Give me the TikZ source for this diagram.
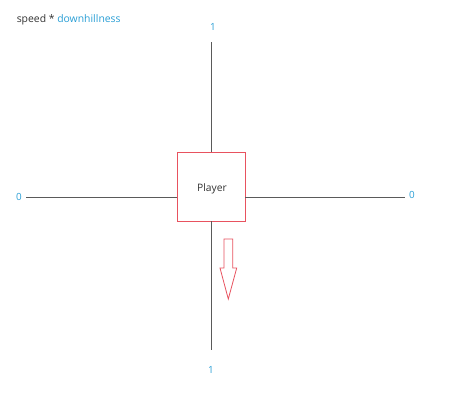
\documentclass[tikz,border=0pt]{standalone}
\usepackage{fontspec}
\setmainfont{Open Sans}
\definecolor{axisgray}{HTML}{5A5A5A}
\definecolor{boxred}{HTML}{E8525F}
\definecolor{labblue}{HTML}{2A9FD6}
\definecolor{txtgray}{HTML}{333333}
\begin{document}
\begin{tikzpicture}[x=0.75pt,y=-0.75pt,
  axis/.style={draw=axisgray,line width=0.75pt},
  lab/.style={text=labblue,font=\fontsize{7.4}{8}\selectfont,inner sep=0pt},
  playerbox/.style={draw=boxred,line width=0.6pt,fill=white,minimum width=51pt,minimum height=51.75pt,inner sep=0pt,font=\fontsize{7.7}{9}\selectfont,text=txtgray}]
\useasboundingbox[fill=white] (0,0) rectangle (474,412);
\node[playerbox] (p) at (211,186.5) {};
\node[text=txtgray,font=\fontsize{7.7}{9}\selectfont,inner sep=0pt] (pl) at (212,189) {Player};
\coordinate (top) at (211,42);
\coordinate (bot) at (211,350);
\coordinate (lft) at (26,197);
\coordinate (rgt) at (405,197);
\draw[axis] (top) -- (p.north);
\draw[axis] (p.south) -- (bot);
\draw[axis] (lft) -- (lft -| p.west);
\draw[axis] (lft -| p.east) -- (rgt);
\node[lab] (t1) at (213,27) {1};
\node[lab] (b1) at (211,370) {1};
\node[lab] (l0) at (19,197) {0};
\node[lab] (r0) at (412,195) {0};
\node[anchor=west,inner sep=0pt,font=\fontsize{7.8}{9}\selectfont] (title) at (16.5,19.5) {\textcolor{txtgray}{speed *} \textcolor{labblue}{downhillness}};
\draw[boxred,line width=0.6pt,line join=miter] (224,239) -- (232.7,239) -- (232.7,268) -- (236.7,268) -- (228.3,299) -- (220,268) -- (224,268) -- cycle;
\end{tikzpicture}
\end{document}
